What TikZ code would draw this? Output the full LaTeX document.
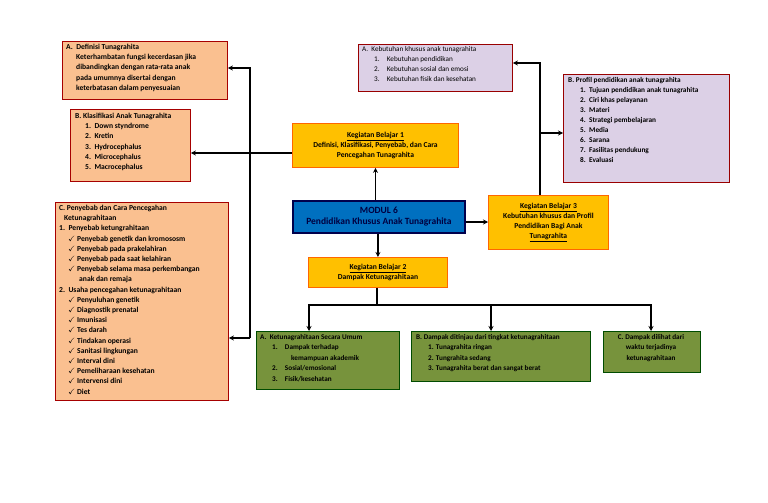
\documentclass[tikz,border=0pt]{standalone}
\usepackage{fontspec}
\setmainfont{Carlito}
\usepackage{amssymb}
\usetikzlibrary{arrows.meta}
\definecolor{org}{HTML}{FAC090}
\definecolor{yel}{HTML}{FFC000}
\definecolor{lav}{HTML}{DCD0E6}
\definecolor{grn}{HTML}{77933C}
\definecolor{blu}{HTML}{0070C0}
\begin{document}
\begin{tikzpicture}[x=1pt,y=-1pt,
 bx/.style={draw,line width=0.9pt,inner sep=0pt,align=left,text=black},
 org/.style={bx,fill=org,draw=red!65!black},
 yel/.style={bx,fill=yel,draw=orange!80!red},
 lav/.style={bx,fill=lav,draw=red!60!black},
 grn/.style={bx,fill=grn,draw=green!30!black},
 ar/.style={-{Stealth[length=5pt,width=5pt]},line width=1.3pt}]
\useasboundingbox (0,0) rectangle (768,503);
\def\bxa#1#2#3#4#5#6{\node[#1,minimum width=#4-#2,minimum height=#5-#3,anchor=north west] (#6) at (#2,#3) {};}
\bxa{org}{62}{41}{227}{99}{defA}
\bxa{org}{70}{109}{190}{181}{klasB}
\bxa{org}{55}{202}{228}{400}{penyC}
\bxa{yel}{292}{123}{458}{167}{kb1}
\node[bx,fill=blu,draw=blue!30!black,line width=1.8pt,minimum width=172,minimum height=32,anchor=north west] (mod) at (292,200) {};
\bxa{yel}{488}{195}{608}{249}{kb3}
\bxa{yel}{308}{257}{447}{287}{kb2}
\bxa{lav}{358}{44}{512}{91}{kebA}
\bxa{lav}{563}{74}{729}{182}{profB}
\bxa{grn}{256}{331}{399}{389}{gA}
\bxa{grn}{411}{331}{590}{381}{gB}
\bxa{grn}{603}{331}{700}{372}{gC}
% texts
\tikzset{t/.style={font=\bfseries\fontsize{7.6}{10.2}\selectfont,align=left,anchor=north west,inner sep=0pt}}
\node[t] (tdefA) at (66,44) {A.\ \ Definisi Tunagrahita\\\hspace*{10pt}Keterhambatan fungsi kecerdasan jika\\\hspace*{10pt}dibandingkan dengan rata-rata anak\\\hspace*{10pt}pada umumnya disertai dengan\\\hspace*{10pt}keterbatasan dalam penyesuaian};
\node[t] (tklas) at (75,113) {B. Klasifikasi Anak Tunagrahita\\\hspace*{10pt}1.\ \ Down styndrome\\\hspace*{10pt}2.\ \ Kretin\\\hspace*{10pt}3.\ \ Hydrocephalus\\\hspace*{10pt}4.\ \ Microcephalus\\\hspace*{10pt}5.\ \ Macrocephalus};
\node[t] (tpeny) at (59,205) {C. Penyebab dan Cara Pencegahan\\\hspace*{5pt}Ketunagrahitaan\\1.\ \ Penyebab ketungrahitaan\\\hspace*{9pt}$\checkmark$\ Penyebab genetik dan kromososm\\\hspace*{9pt}$\checkmark$\ Penyebab pada prakelahiran\\\hspace*{9pt}$\checkmark$\ Penyebab pada saat kelahiran\\\hspace*{9pt}$\checkmark$\ Penyebab selama masa perkembangan\\\hspace*{20pt}anak dan remaja\\2.\ \ Usaha pencegahan ketunagrahitaan\\\hspace*{9pt}$\checkmark$\ Penyuluhan genetik\\\hspace*{9pt}$\checkmark$\ Diagnostik prenatal\\\hspace*{9pt}$\checkmark$\ Imunisasi\\\hspace*{9pt}$\checkmark$\ Tes darah\\\hspace*{9pt}$\checkmark$\ Tindakan operasi\\\hspace*{9pt}$\checkmark$\ Sanitasi lingkungan\\\hspace*{9pt}$\checkmark$\ Interval dini\\\hspace*{9pt}$\checkmark$\ Pemeliharaan kesehatan\\\hspace*{9pt}$\checkmark$\ Intervensi dini\\\hspace*{9pt}$\checkmark$\ Diet};
\node[t,align=center,anchor=center] (tkb1) at (kb1.center) {\underline{Kegiatan Belajar 1}\\Definisi, Klasifikasi, Penyebab, dan Cara\\Pencegahan Tunagrahita};
\node[t,align=center,anchor=center,font=\bfseries\fontsize{9.5}{11}\selectfont,text=blue!25!black] (tmod) at (mod.center) {MODUL 6\\Pendidikan Khusus Anak Tunagrahita};
\node[t,align=center,anchor=center] (tkb3) at (kb3.center) {\underline{Kegiatan Belajar 3}\\Kebutuhan khusus dan Profil\\Pendidikan Bagi Anak\\\underline{Tunagrahita}};
\node[t,align=center,anchor=center] (tkb2) at (kb2.center) {\underline{Kegiatan Belajar 2}\\Dampak Ketunagrahitaan};
\node[t,font=\fontsize{7.2}{10}\selectfont] (tkeb) at (362,46) {A.\ \ Kebutuhan khusus anak tunagrahita\\\hspace*{12pt}1.\quad Kebutuhan pendidikan\\\hspace*{12pt}2.\quad Kebutuhan sosial dan emosi\\\hspace*{12pt}3.\quad Kebutuhan fisik dan kesehatan};
\node[t,font=\bfseries\fontsize{7.3}{10}\selectfont] (tprof) at (568,77) {B. Profil pendidikan anak tunagrahita\\\hspace*{12pt}1.\ \ Tujuan pendidikan anak tunagrahita\\\hspace*{12pt}2.\ \ Ciri khas pelayanan\\\hspace*{12pt}3.\ \ Materi\\\hspace*{12pt}4.\ \ Strategi pembelajaran\\\hspace*{12pt}5.\ \ Media\\\hspace*{12pt}6.\ \ Sarana\\\hspace*{12pt}7.\ \ Fasilitas pendukung\\\hspace*{12pt}8.\ \ Evaluasi};
\node[t,font=\bfseries\fontsize{7.2}{10.5}\selectfont] (tgA) at (260,334) {A.\ \ Ketunagrahitaan Secara Umum\\\hspace*{12pt}1.\quad Dampak terhadap\\\hspace*{31pt}kemampuan akademik\\\hspace*{12pt}2.\quad Sosial/emosional\\\hspace*{12pt}3.\quad Fisik/kesehatan};
\node[t,font=\bfseries\fontsize{7.2}{10.5}\selectfont] (tgB) at (416,334) {B. Dampak ditinjau dari tingkat ketunagrahitaan\\\hspace*{12pt}1. Tunagrahita ringan\\\hspace*{12pt}2. Tungrahita sedang\\\hspace*{12pt}3. Tunagrahita berat dan sangat berat};
\node[t,align=center,anchor=north,font=\bfseries\fontsize{7.2}{10.5}\selectfont] (tgC) at (651,334) {C. Dampak dilihat dari\\waktu terjadinya\\ketunagrahitaan};
% connectors
\coordinate (l1) at (250,68);
\coordinate (l2) at (250,338);
\draw[ar] (l2) -- (l1) -- (defA.east|-l1);
\draw[ar] (l1|-l2) -- (penyC.east|-l2);
\draw[ar] (kb1.west|-0,153) -- (klasB.east|-0,153);
\draw[ar] (mod.north-|kb1) -- (kb1.south);
\draw[ar] (mod.east|-0,222) -- (kb3.west|-0,222);
\draw[ar] (mod.south-|kb2) -- (kb2.north);
\coordinate (r1) at (540,63);
\coordinate (r2) at (540,133);
\draw[ar] (kb3.north-|r1) -- (r1) -- (kebA.east|-r1);
\draw[ar] (r2) -- (profB.west|-r2);
\coordinate (b0) at (377,305);
\coordinate (bl) at (309,305);
\coordinate (bm) at (491,305);
\coordinate (br) at (651,305);
\draw[line width=1.3pt] (kb2.south-|b0) -- (b0);
\draw[ar] (b0) -- (bl) -- (gA.north-|bl);
\draw[ar] (b0) -- (br) -- (gC.north-|br);
\draw[ar] (bm) -- (gB.north-|bm);
\end{tikzpicture}
\end{document}
